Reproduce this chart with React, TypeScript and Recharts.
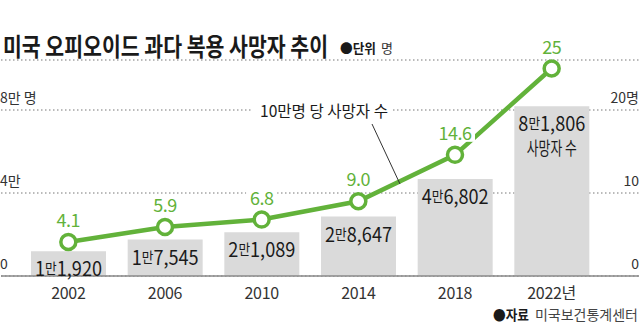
import React from 'react';
import { ComposedChart, Bar, Line, XAxis, YAxis, CartesianGrid, LabelList } from 'recharts';

const years = ['2002', '2006', '2010', '2014', '2018', '2022년'];
const deaths = [11920, 17545, 21089, 28647, 46802, 81806];
const ratePer100k = [4.1, 5.9, 6.8, 9.0, 14.6, 25];
const rateLabels = ['4.1', '5.9', '6.8', '9.0', '14.6', '25'];
const deathTicks = [0, 40000, 80000];
const deathTickLabels = ['0', '4만', '8만 명'];
const rateTicks = [0, 10, 20];
const rateTickLabels = ['0', '10', '20명'];

const W = 640;
const H = 331;
const TOP = 60;
const BASE = 276;
const GRID_TOP = 110;
const deathMax = (80000 * (BASE - TOP)) / (BASE - GRID_TOP);
const rateMax = (20 * (BASE - TOP)) / (BASE - GRID_TOP);

const GREEN = '#62b23a';
const FONT = '"Noto Sans CJK KR", "Noto Sans", sans-serif';

const data = years.map((year, i) => ({
    year,
    deaths: deaths[i],
    rate: ratePer100k[i],
    rateLabel: rateLabels[i],
}));

const LeftTick = (props: any) => {
    const { y, payload } = props;
    const label = deathTickLabels[deathTicks.indexOf(payload.value)];
    return (
        <text x={0} y={y - 13} dominantBaseline="central" fontSize={14} fill="#333" fontFamily={FONT}>
            {label}
        </text>
    );
};

const RightTick = (props: any) => {
    const { y, payload } = props;
    const label = rateTickLabels[rateTicks.indexOf(payload.value)];
    return (
        <text x={W - 1} y={y - 13} textAnchor="end" dominantBaseline="central" fontSize={14} fill="#333" fontFamily={FONT}>
            {label}
        </text>
    );
};

const YearTick = (props: any) => {
    const { x, y, payload } = props;
    return (
        <text x={x} y={y + 14} textAnchor="middle" dominantBaseline="central" fontSize={16} fill="#333" fontFamily={FONT} letterSpacing={-0.3}>
            {payload.value}
        </text>
    );
};

const RateDot = (props: any) => {
    const { cx, cy, index } = props;
    return <circle key={`dot-${index}`} cx={cx} cy={cy} r={7.5} fill="#fff" stroke={GREEN} strokeWidth={3.5} />;
};

const RateLabel = (props: any) => {
    const vb = props.viewBox || props;
    const x = vb.x + (vb.width || 0) / 2;
    const y = vb.y - 23;
    const w = String(props.value).length * 9 + 4;
    return (
        <g>
            <rect x={x - w / 2} y={y - 10} width={w} height={20} fill="#fff" />
            <text x={x} y={y} textAnchor="middle" dominantBaseline="central" fontSize={18} fill={GREEN} fontFamily={FONT} letterSpacing={-0.5}>
                {props.value}
            </text>
        </g>
    );
};

const DeathLabel = (props: any) => {
    const vb = props.viewBox || props;
    const v = Number(props.value);
    const cx = vb.x + vb.width / 2;
    const cy = vb.y + 16;
    const man = Math.floor(v / 10000);
    const rest = (v % 10000).toLocaleString('en-US');
    const last = props.index === deaths.length - 1;
    return (
        <g>
            <text x={cx} y={cy} textAnchor="middle" dominantBaseline="central" fill="#1a1a1a" fontFamily={FONT}
                textLength={67} lengthAdjust="spacingAndGlyphs">
                <tspan fontSize={20}>{man}</tspan>
                <tspan fontSize={14}>만</tspan>
                <tspan fontSize={20}>{rest}</tspan>
            </text>
            {last && (
                <text x={cx} y={cy + 25} textAnchor="middle" dominantBaseline="central" fontSize={18} fill="#1a1a1a" fontFamily={FONT}
                    textLength={50} lengthAdjust="spacingAndGlyphs">
                    사망자 수
                </text>
            )}
        </g>
    );
};

const App: React.FC = () => {
    return (
        <div style={{ position: 'absolute', left: 0, top: 0, width: W, height: H, background: '#fff', fontFamily: FONT }}>
            <ComposedChart width={W} height={H} data={data} margin={{ top: TOP, right: 0, left: 0, bottom: 25 }}>
                <CartesianGrid yAxisId="left" vertical={false} stroke="#777" strokeDasharray="1.5 2.5" />
                <XAxis
                    dataKey="year"
                    padding={{ left: 19, right: 39 }}
                    axisLine={{ stroke: '#888', strokeWidth: 1.5 }}
                    tickLine={false}
                    tickSize={0}
                    height={30}
                    tick={<YearTick />}
                    interval={0}
                />
                <YAxis yAxisId="left" domain={[0, deathMax]} ticks={deathTicks} width={1} axisLine={false} tickLine={false} tick={<LeftTick />} />
                <YAxis yAxisId="right" orientation="right" domain={[0, rateMax]} ticks={rateTicks} width={1} axisLine={false} tickLine={false} tick={<RightTick />} />
                <Bar yAxisId="left" dataKey="deaths" fill="#dadada" barSize={75} isAnimationActive={false}>
                    <LabelList dataKey="deaths" content={<DeathLabel />} />
                </Bar>
                <Line
                    yAxisId="right"
                    type="linear"
                    dataKey="rate"
                    stroke={GREEN}
                    strokeWidth={4.5}
                    dot={<RateDot />}
                    activeDot={false}
                    isAnimationActive={false}
                >
                    <LabelList dataKey="rateLabel" content={<RateLabel />} />
                </Line>
            </ComposedChart>
            <svg width={W} height={H} style={{ position: 'absolute', left: 0, top: 0, pointerEvents: 'none' }}>
                <text transform="translate(3,45) scale(1,1.3)" x={0} y={0} dominantBaseline="central" fontSize={19} fontWeight={700} fill="#1a1a1a" fontFamily={FONT}
                    textLength={325} lengthAdjust="spacingAndGlyphs">
                    미국 오피오이드 과다 복용 사망자 추이
                </text>
                <text x={340} y={47} dominantBaseline="central" fontSize={13} fontWeight={700} fill="#1a1a1a" fontFamily={FONT}
                    textLength={36} lengthAdjust="spacingAndGlyphs">
                    ●단위
                </text>
                <text x={381} y={47} dominantBaseline="central" fontSize={13} fill="#333" fontFamily={FONT}>
                    명
                </text>
                <rect x={253} y={100} width={140} height={20} fill="#fff" />
                <text x={260} y={110} dominantBaseline="central" fontSize={16} fill="#1a1a1a" fontFamily={FONT}
                    textLength={128} lengthAdjust="spacingAndGlyphs">
                    10만명 당 사망자 수
                </text>
                <line x1={372} y1={124} x2={400} y2={184} stroke="#333" strokeWidth={1} />
                <text x={493} y={314} dominantBaseline="central" fontSize={14} fontWeight={700} fill="#1a1a1a" fontFamily={FONT}
                    textLength={36} lengthAdjust="spacingAndGlyphs">
                    ●자료
                </text>
                <text x={535} y={314} dominantBaseline="central" fontSize={14} fill="#444" fontFamily={FONT}
                    textLength={103} lengthAdjust="spacingAndGlyphs">
                    미국보건통계센터
                </text>
            </svg>
        </div>
    );
};

export default App;
